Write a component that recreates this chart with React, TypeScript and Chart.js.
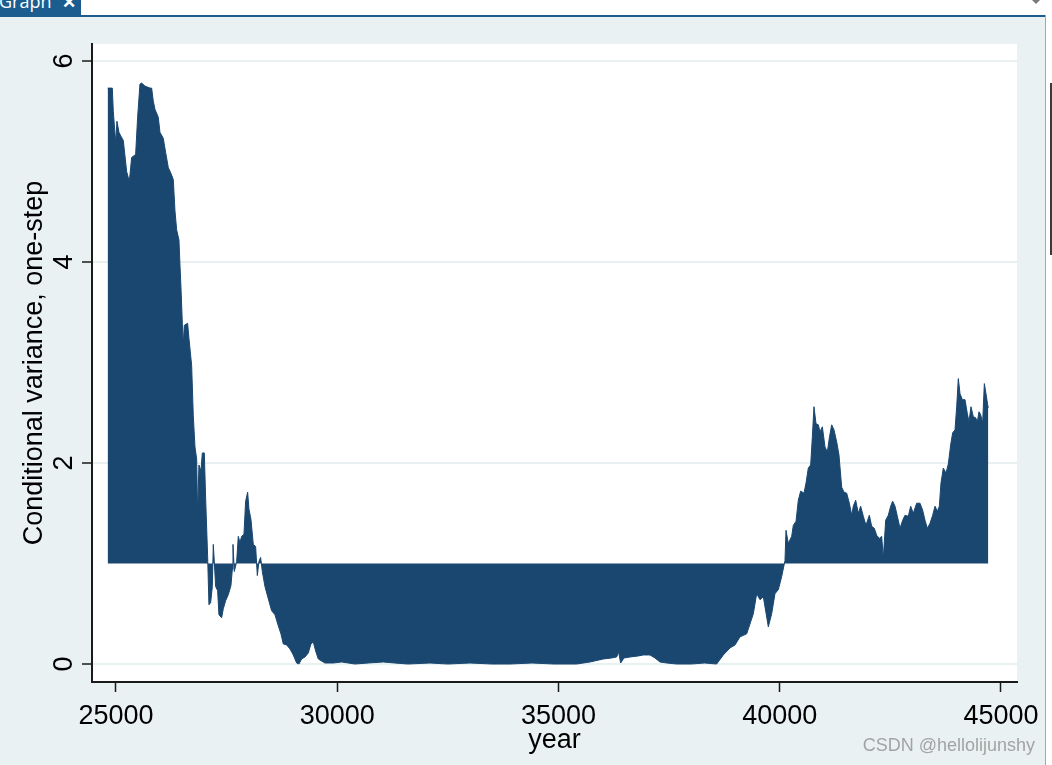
import React, { useEffect, useRef } from "react";
import { Chart, registerables } from "chart.js";

Chart.register(...registerables);

const years = [
  24811, 24917, 24939, 24992, 25022, 25067, 25113, 25165, 25241, 25301,
  25354, 25444, 25489, 25542, 25580, 25655, 25768, 25806, 25843, 25881,
  25956, 25994, 26069, 26122, 26182, 26243, 26295, 26333, 26371, 26423,
  26446, 26469, 26499, 26521, 26544, 26619, 26649, 26710, 26747, 26785,
  26823, 26845, 26875, 26920, 26951, 26996, 27026, 27071, 27101, 27139,
  27177, 27199, 27222, 27252, 27297, 27327, 27388, 27425, 27478, 27538,
  27598, 27629, 27644, 27674, 27727, 27764, 27802, 27840, 27892, 27930,
  27975, 28005, 28050, 28103, 28156, 28194, 28231, 28269, 28307, 28367,
  28442, 28517, 28593, 28668, 28728, 28781, 28856, 28932, 29007, 29082,
  29135, 29195, 29271, 29346, 29406, 29459, 29512, 29572, 29723, 29911,
  30100, 30400, 30700, 31041, 31300, 31600, 32096, 32500, 33000, 33500,
  33904, 34400, 34900, 35410, 35712, 36013, 36200, 36314, 36359, 36405,
  36480, 36616, 36800, 36917, 37068, 37180, 37294, 37450, 37670, 38000,
  38300, 38574, 38725, 38876, 38990, 39102, 39253, 39403, 39479, 39554,
  39629, 39742, 39818, 39893, 39968, 40044, 40119, 40142, 40194, 40270,
  40307, 40368, 40420, 40473, 40548, 40594, 40646, 40699, 40737, 40774,
  40820, 40872, 40910, 40963, 41023, 41076, 41121, 41174, 41226, 41287,
  41339, 41400, 41452, 41513, 41573, 41626, 41663, 41716, 41776, 41829,
  41889, 41949, 42025, 42078, 42138, 42191, 42251, 42304, 42341, 42394,
  42454, 42507, 42552, 42605, 42658, 42718, 42778, 42831, 42906, 42959,
  43019, 43094, 43170, 43230, 43283, 43336, 43396, 43456, 43509, 43562,
  43607, 43644, 43697, 43757, 43810, 43863, 43908, 43961, 43999, 44036,
  44074, 44127, 44187, 44240, 44277, 44322, 44375, 44428, 44466, 44503,
  44541, 44586, 44624, 44661, 44699, 44714,
];

const variance = [
  5.73, 5.73, 5.5, 5.19, 5.4, 5.29, 5.25, 5.21, 4.9, 4.8,
  5.04, 5.07, 5.44, 5.77, 5.78, 5.75, 5.73, 5.73, 5.6, 5.52,
  5.44, 5.29, 5.23, 5.09, 4.94, 4.88, 4.82, 4.51, 4.32, 4.22,
  3.97, 3.74, 3.39, 3.18, 3.37, 3.39, 3.24, 2.97, 2.47, 2.16,
  2.04, 1.48, 1.98, 1.92, 2.1, 2.1, 1.65, 1.07, 0.59, 0.61,
  0.77, 1.19, 1.02, 0.77, 0.73, 0.49, 0.46, 0.55, 0.63, 0.69,
  0.78, 0.94, 1.19, 0.92, 1.02, 1.27, 1.21, 1.27, 1.29, 1.62,
  1.71, 1.54, 1.44, 1.19, 1.17, 0.88, 1.02, 1.06, 0.92, 0.77,
  0.65, 0.53, 0.49, 0.38, 0.3, 0.2, 0.19, 0.15, 0.09, 0.01,
  0.0, 0.05, 0.07, 0.11, 0.2, 0.22, 0.13, 0.05, 0.01, 0.01,
  0.02, 0.0, 0.01, 0.02, 0.01, 0.0, 0.01, 0.0, 0.01, 0.0,
  0.0, 0.01, 0.0, 0.0, 0.02, 0.05, 0.06, 0.07, 0.12, 0.01,
  0.06, 0.07, 0.08, 0.09, 0.09, 0.06, 0.02, 0.01, 0.0, 0.0,
  0.01, 0.0, 0.09, 0.16, 0.19, 0.27, 0.3, 0.5, 0.7, 0.64,
  0.67, 0.37, 0.5, 0.7, 0.74, 0.87, 1.03, 1.33, 1.2, 1.27,
  1.38, 1.42, 1.63, 1.72, 1.7, 1.8, 1.95, 1.98, 2.26, 2.56,
  2.39, 2.38, 2.31, 2.36, 2.16, 2.11, 2.25, 2.38, 2.33, 2.21,
  2.08, 1.76, 1.71, 1.7, 1.6, 1.48, 1.57, 1.63, 1.5, 1.57,
  1.47, 1.38, 1.48, 1.37, 1.35, 1.28, 1.25, 1.27, 1.05, 1.43,
  1.48, 1.57, 1.62, 1.57, 1.47, 1.35, 1.43, 1.48, 1.47, 1.57,
  1.5, 1.6, 1.6, 1.53, 1.43, 1.35, 1.4, 1.48, 1.57, 1.52,
  1.57, 1.8, 1.95, 1.9, 1.99, 2.18, 2.3, 2.33, 2.56, 2.84,
  2.69, 2.63, 2.63, 2.49, 2.41, 2.56, 2.46, 2.45, 2.41, 2.51,
  2.48, 2.4, 2.79, 2.69, 2.58, 2.55,
];

const baseline = 1;
const xTickValues = [25000, 30000, 35000, 40000, 45000];
const yTickValues = [0, 2, 4, 6];
const xTitle = "year";
const yTitle = "Conditional variance, one-step";
const tabLabel = "Graph";
const watermark = "CSDN @hellolijunshy";

const FONT = '"Liberation Sans", Arial, sans-serif';
const NAVY = "#1a476f";
const PANEL = "#e9f1f3";
const AXIS = "#1a1a1a";
const TAB_BLUE = "#1b5d8f";

export default function App() {
  const ref = useRef<HTMLCanvasElement>(null);

  useEffect(() => {
    const canvas = ref.current;
    if (!canvas) return;

    const stataPlugin = {
      id: "stataLook",
      beforeDraw(chart: any) {
        const { ctx, chartArea: a } = chart;
        ctx.save();
        ctx.fillStyle = "#ffffff";
        ctx.fillRect(a.left, a.top, a.right - a.left, a.bottom - a.top);
        ctx.restore();
      },
      afterDraw(chart: any) {
        const { ctx, chartArea: a, scales } = chart;
        const xs = scales.x;
        const ys = scales.y;
        ctx.save();
        ctx.fillStyle = "#000000";
        ctx.font = `27px ${FONT}`;
        ctx.textAlign = "center";
        ctx.textBaseline = "alphabetic";
        xTickValues.forEach((v) => {
          ctx.fillText(String(v), xs.getPixelForValue(v), a.bottom + 41.5);
        });
        yTickValues.forEach((v) => {
          ctx.save();
          ctx.translate(a.left - 20.5, ys.getPixelForValue(v));
          ctx.rotate(-Math.PI / 2);
          ctx.fillText(String(v), 0, 0);
          ctx.restore();
        });
        ctx.fillText(xTitle, (a.left + a.right) / 2, a.bottom + 66);
        ctx.save();
        ctx.translate(42, (a.top + a.bottom) / 2);
        ctx.rotate(-Math.PI / 2);
        ctx.fillText(yTitle, 0, 0);
        ctx.restore();
        ctx.restore();
      },
    };

    const chart = new Chart(canvas, {
      type: "line",
      data: {
        datasets: [
          {
            data: years.map((x, i) => ({ x, y: variance[i] })),
            borderColor: NAVY,
            backgroundColor: NAVY,
            borderWidth: 1,
            pointRadius: 0,
            tension: 0,
            fill: { value: baseline },
          },
        ],
      },
      options: {
        responsive: false,
        animation: false,
        devicePixelRatio: 1,
        layout: { padding: { left: 0, right: 28, top: 27, bottom: 0 } },
        plugins: {
          legend: { display: false },
          tooltip: { enabled: false },
        },
        scales: {
          x: {
            type: "linear",
            min: 24458,
            max: 45362,
            afterBuildTicks: (s: any) => {
              s.ticks = xTickValues.map((value) => ({ value }));
            },
            afterFit: (s: any) => {
              s.height = 83;
            },
            ticks: { display: false },
            grid: {
              display: true,
              drawOnChartArea: false,
              drawTicks: true,
              tickLength: 10,
              tickColor: AXIS,
              tickWidth: 1.5,
            },
            border: { display: true, color: AXIS, width: 2 },
          },
          y: {
            type: "linear",
            min: -0.179,
            max: 6.169,
            afterBuildTicks: (s: any) => {
              s.ticks = yTickValues.map((value) => ({ value }));
            },
            afterFit: (s: any) => {
              s.width = 92;
            },
            ticks: { display: false },
            grid: {
              display: true,
              drawOnChartArea: true,
              color: "#e8f0f2",
              lineWidth: 2,
              drawTicks: true,
              tickLength: 10,
              tickColor: AXIS,
              tickWidth: 1.5,
            },
            border: { display: true, color: AXIS, width: 2 },
          },
        },
      },
      plugins: [stataPlugin],
    } as any);

    return () => chart.destroy();
  }, []);

  return (
    <div
      style={{
        position: "fixed",
        left: 0,
        top: 0,
        width: 1052,
        height: 765,
        background: "#ffffff",
        overflow: "hidden",
      }}
    >
      <div
        style={{
          position: "absolute",
          left: 0,
          top: 0,
          width: 81,
          height: 16,
          background: TAB_BLUE,
          overflow: "hidden",
        }}
      >
        <span
          style={{
            position: "absolute",
            left: -1,
            top: -9,
            color: "#ffffff",
            fontFamily: '"Open Sans", "Noto Sans", sans-serif',
            fontSize: 18,
            lineHeight: "20px",
            whiteSpace: "nowrap",
          }}
        >
          {tabLabel}
          <span style={{ marginLeft: 10, fontSize: 17, fontWeight: 700 }}>✕</span>
        </span>
      </div>
      <div
        style={{
          position: "absolute",
          left: 0,
          top: 15,
          width: 1046,
          height: 2,
          background: TAB_BLUE,
        }}
      />
      <div
        style={{
          position: "absolute",
          left: 0,
          top: 17,
          width: 1045,
          height: 748,
          background: PANEL,
        }}
      >
        <canvas
          ref={ref}
          width={1045}
          height={748}
          style={{ display: "block", width: 1045, height: 748 }}
        />
      </div>
      <div
        style={{
          position: "absolute",
          left: 1045,
          top: 15,
          width: 1,
          height: 750,
          background: "#a6a6a6",
        }}
      />
      <div
        style={{
          position: "absolute",
          left: 1032,
          top: 0,
          width: 0,
          height: 0,
          borderLeft: "4px solid transparent",
          borderRight: "4px solid transparent",
          borderTop: "4px solid #7a7a7a",
        }}
      />
      <div
        style={{
          position: "absolute",
          left: 1050,
          top: 83,
          width: 2,
          height: 172,
          background: "#3a3a3a",
        }}
      />
      <div
        style={{
          position: "absolute",
          right: 17,
          top: 734,
          color: "#a3a3a3",
          fontFamily: FONT,
          fontSize: 18,
          lineHeight: "22px",
          whiteSpace: "nowrap",
        }}
      >
        {watermark}
      </div>
    </div>
  );
}
